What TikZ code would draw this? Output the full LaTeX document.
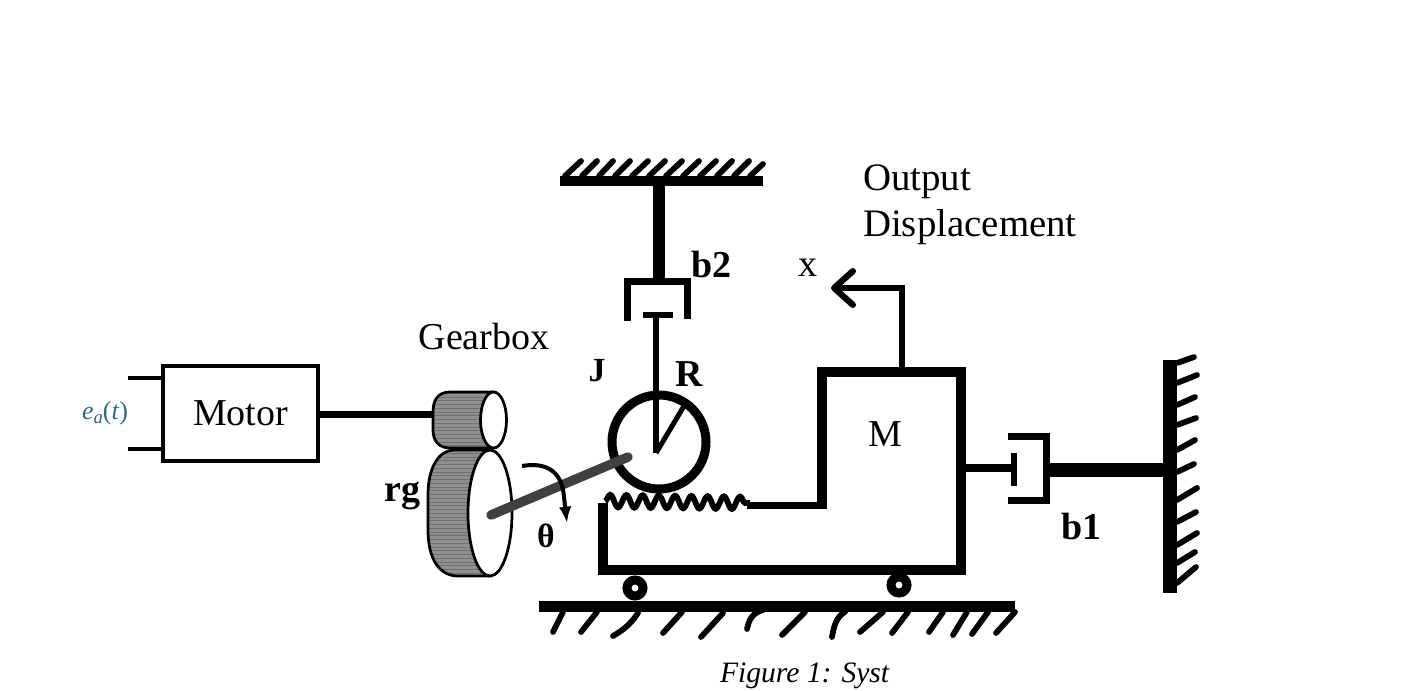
\documentclass[tikz,border=0pt]{standalone}
\usepackage{fontspec}
\setmainfont{Liberation Serif}
\usetikzlibrary{arrows.meta,decorations.pathmorphing,patterns}
\definecolor{c8F8F8F}{RGB}{143,143,143}
\definecolor{c707070}{RGB}{112,112,112}
\definecolor{c404040}{RGB}{64,64,64}
\definecolor{c2F6B75}{RGB}{47,107,117}
\newcommand{\labelfont}{\fontsize{30.4}{36}\selectfont}
\tikzset{
  txt/.style={inner sep=0pt, outer sep=0pt, font=\labelfont},
  boldtxt/.style={txt, font=\labelfont\bfseries},
  frame/.style={draw=black, line width=8pt, line cap=butt, line join=miter},
  cylinder/.style={draw=black, line width=5.6pt, line join=miter},
  hatch/.style={draw=black, line width=4.6pt, line cap=round},
  gearbody/.style={draw=black, line width=2.2pt, preaction={fill=c8F8F8F}, pattern=horizontal lines, pattern color=c707070},
  gearface/.style={draw=black, line width=2.2pt, fill=white},
}

\begin{document}
\begin{tikzpicture}[y=0.80pt,x=0.80pt,yscale=-1, inner sep=0pt, outer sep=0pt]
  \useasboundingbox (0,0) rectangle (1406,690);
  % motor
  \node[draw=black, line width=3.4pt, minimum width=124pt, minimum height=76pt, txt] (motor) at (240.5,413.5) {Motor};
  \node[txt, font=\fontsize{20.8}{24}\selectfont, text=c2F6B75] (ea) at (105,413) {\textit{e}\raisebox{-3pt}{\fontsize{15}{16}\selectfont\textit{a}}(\textit{t})};
  \coordinate (leadA) at (128,378);
  \coordinate (leadB) at (128,449);
  \path[draw=black,line width=3.2pt] (leadA) -- (leadA -| motor.west);
  \path[draw=black,line width=3.2pt] (leadB) -- (leadB -| motor.west);
  \coordinate (gearin) at (433,414);
  \path[draw=black,line width=5.6pt] (motor.east |- gearin) -- (gearin);
  % gearbox
  \node[txt] (gearbox) at (484,336) {Gearbox};
  \path[gearbody] (493,392) -- (450,392) .. controls (438,392) and (433,400) .. (433,412)
    -- (433,430) .. controls (433,442) and (440,448) .. (450,448) -- (493,448) -- cycle;
  \path[gearface] (493.5,420) ellipse (13 and 28);
  \path[gearbody] (490,450) -- (455,450) .. controls (437,450) and (428,470) .. (428,495)
    -- (428,530) .. controls (428,560) and (440,576) .. (458,576) -- (490,576) -- cycle;
  \path[gearface] (490,513) ellipse (22 and 63);
  \node[boldtxt, anchor=base] (rg) at (402.5,501) {rg};
  % upper ground with damper b2
  \path[draw=black,line width=7.6pt] (560,181) -- (763,181);
  \path[hatch] (565,176) -- (581,161) (582,176) -- (597,161) (599,176) -- (613,161)
    (615,176) -- (630,161) (632,176) -- (648,161) (649,176) -- (665,161) (666,176) -- (682,161)
    (683,176) -- (699,161) (700,176) -- (716,161) (717,176) -- (732,161) (734,176) -- (749,161)
    (750,176) -- (763,164);
  \path[draw=black,line width=10pt] (659,181) -- (659,281);
  \path[cylinder] (627,321) -- (627,281) -- (687,281) -- (687,319);
  \path[draw=black,line width=4.8pt] (643,315) -- (673,315);
  % drum
  \node[boldtxt, font=\fontsize{27}{32}\selectfont\bfseries] (J) at (597,371) {J};
  \node[boldtxt] (R) at (689,374) {R};
  \node[boldtxt] (b2) at (711.5,264) {b2};
  \path[draw=black,line width=7.2pt] (659,442) circle (47);
  \path[draw=black,line width=4.8pt] (656,315) -- (656,453);
  \path[draw=black,line width=4pt] (656,453) -- (684,406);
  % spring, block
  \path[draw=black,line width=4.6pt,decorate,decoration={snake,amplitude=5pt,segment length=13pt}]
    (605,501) -- (750,503);
  \path[frame] (603,503) -- (603,570) -- (961,570) -- (961,372) -- (822,372) -- (822,509);
  \path[draw=black,line width=5.6pt] (825,505) -- (747,505);
  \node[txt] (M) at (885,434) {M};
  % crank and angle
  \path[draw=c404040,line width=7.6pt,line cap=round] (491,515) -- (628,457);
  \coordinate (thetaA) at (522,466);
  \coordinate (thetaB) at (567,523);
  \path[draw=black,line width=3.2pt,-{Latex[length=13pt,width=10pt]}] (thetaA)
    .. controls (545,462) and (562,470) .. (564,497) -- (thetaB);
  \node[boldtxt, font=\fontsize{27}{32}\selectfont\bfseries] (theta) at (546,536) {θ};
  % wheels, floor
  \path[draw=black,line width=7.2pt,fill=white] (635,588) circle (8);
  \path[draw=black,line width=7.2pt,fill=white] (899,585) circle (8);
  \path[draw=black,line width=8.8pt] (539,606) -- (1015,606);
  \path[hatch] (563,612) -- (553,632) (597,612) -- (581,632)
    (638,613) .. controls (630,625) and (623,630) .. (613,636)
    (682,612) -- (663,633) (723,613) -- (701,637)
    (763,610) .. controls (752,613) and (749,620) .. (747,629)
    (805,612) -- (782,635)
    (845,612) .. controls (836,617) and (834,626) .. (832,637)
    (883,612) -- (860,632) (908,612) -- (892,633) (943,612) -- (929,632)
    (967,612) -- (953,635) (988,612) -- (972,634) (1015,612) -- (996,633);
  % output
  \coordinate (masstop) at (902,368);
  \coordinate (xtip) at (831,288);
  \path[draw=black,line width=4.6pt,-{Straight Barb[length=15pt,width=27pt,line width=5pt,round]}]
    (masstop) |- (xtip);
  \node[txt] (x) at (808,268) {x};
  \node[txt, font=\fontsize{31.1}{36}\selectfont, anchor=west] (output) at (863,182) {Output};
  \node[txt, font=\fontsize{31.1}{36}\selectfont, anchor=west] (disp) at (863,227) {Displacement};
  % damper b1, wall
  \path[draw=black,line width=6pt] (966,468) -- (1014,468);
  \path[draw=black,line width=4.8pt] (1014,453) -- (1014,486);
  \path[cylinder] (1008,436) -- (1046,436) -- (1046,500) -- (1008,500);
  \path[draw=black,line width=11pt] (1049,470) -- (1170,470);
  \path[draw=black,line width=11.2pt] (1170,360) -- (1170,593);
  \path[hatch] (1177,363) -- (1194,357) (1177,383) -- (1197,375) (1177,405) -- (1195,397)
    (1177,425) -- (1196,418) (1177,450) -- (1195,440) (1177,472) -- (1194,464)
    (1177,500) -- (1197,488) (1177,522) -- (1196,512) (1177,545) -- (1197,533)
    (1177,563) -- (1195,552) (1177,583) -- (1196,567);
  \node[boldtxt] (b1) at (1081.5,526) {b1};
  % caption
  \node[txt, font=\fontsize{23.7}{28}\selectfont\itshape, anchor=base west] (caption) at (720,682) {Figure 1: Syst};
\end{tikzpicture}
\end{document}
